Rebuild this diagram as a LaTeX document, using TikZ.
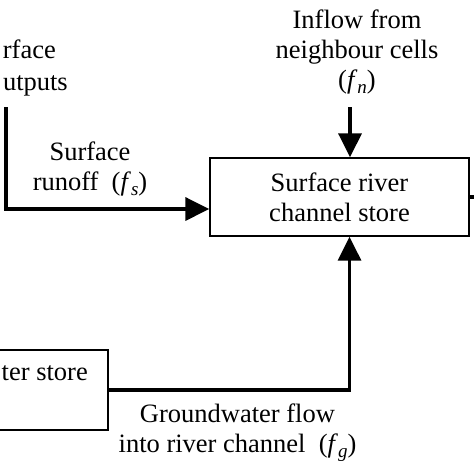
\documentclass[tikz,border=0pt]{standalone}
\usepackage{fontspec}
\setmainfont{Liberation Serif}
\usetikzlibrary{arrows.meta}
\newcommand{\flowsub}[1]{\textit{f}\raisebox{-0.45ex}{\fontsize{19}{19}\selectfont\textit{#1}}}
\begin{document}
\begin{tikzpicture}[x=1pt,y=-1pt,
  box/.style={draw, line width=1.3pt, inner sep=0pt},
  flow/.style={line width=3.3pt, -{Triangle[length=24pt,width=23pt]}},
  lbl/.style={font=\fontsize{26.5}{30}\selectfont, align=center, inner sep=0pt}]
\useasboundingbox (0,0) rectangle (474,474);
\clip (0,0) rectangle (474,474);
% boxes
\node[box, lbl, minimum width=259pt, minimum height=78pt] (rs) at (339.5,197) {Surface river\\channel store};
\node[box, minimum width=120pt, minimum height=80pt] (gw) at (48,390) {};
\node[lbl, anchor=base east] (gwt) at (88,380) {ter store};
% partial source text
\node[lbl, anchor=base east] (so1) at (56,58) {rface};
\node[lbl, anchor=base east] (so2) at (68,90) {utputs};
\coordinate (src) at (6,107);
\coordinate (nf) at (350,107);
% labels
\node[lbl, anchor=base] (lfs) at (90,190) {Surface\\runoff\enspace(\flowsub{s})};
\node[lbl, anchor=base] (lfn) at (357,88) {Inflow from\\neighbour cells\\(\flowsub{n})};
\node[lbl, anchor=base] (lfg) at (237.5,452) {Groundwater flow\\into river channel\enspace(\flowsub{g})};
% connectors
\draw[flow] (src) |- ([yshift=-12pt]rs.west);
\draw[flow] (nf) -- (nf |- rs.north);
\draw[flow] (gw.east) -| ([xshift=10pt]rs.south);
\draw[line width=3.3pt] (rs.east) -- ++(10,0);
\end{tikzpicture}
\end{document}
